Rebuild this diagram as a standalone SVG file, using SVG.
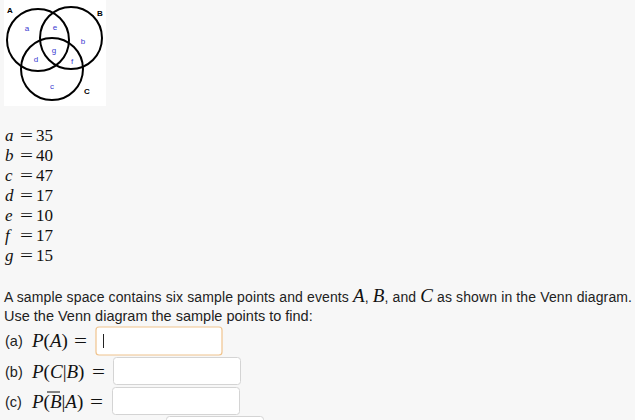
<svg xmlns="http://www.w3.org/2000/svg" width="635" height="420" viewBox="0 0 635 420">
<style>
.bg{fill:#f7f7f7}
.circ{fill:none;stroke:#000;stroke-width:2}
.lab{font-family:"Liberation Sans",Arial,sans-serif;font-size:8px;fill:#3a3ad0;text-anchor:middle}
.set{font-family:"Liberation Sans",Arial,sans-serif;font-size:8px;font-weight:bold;fill:#000;text-anchor:middle}
.eq{font-family:"Liberation Serif","Times New Roman",serif;font-size:17px;fill:#111}
.m{font-family:"Liberation Serif","Times New Roman",serif;font-size:19px;fill:#111}
.it{font-style:italic}
.txt{font-family:"Liberation Sans",Arial,sans-serif;font-size:14.5px;fill:#222}
.box{fill:#fff;stroke:#d4d4d4;stroke-width:1}
.boxa{fill:#fff;stroke:#f0c48e;stroke-width:1.2}
</style>
<rect class="bg" x="0" y="0" width="635" height="420"/>
<g id="venn">
<rect x="4" y="0" width="102" height="106" fill="#fff"/>
<g id="circleA"><circle class="circ" cx="38" cy="40" r="31"/><text class="set" x="10" y="13">A</text></g>
<g id="circleB"><circle class="circ" cx="71" cy="38" r="31"/><text class="set" x="100" y="16">B</text></g>
<g id="circleC"><circle class="circ" cx="52" cy="69" r="31"/><text class="set" x="87" y="94">C</text></g>
<text class="lab" x="27" y="31">a</text>
<text class="lab" x="55" y="30">e</text>
<text class="lab" x="83" y="44">b</text>
<text class="lab" x="54" y="53">g</text>
<text class="lab" x="36" y="62">d</text>
<text class="lab" x="72" y="64">f</text>
<text class="lab" x="52" y="89">c</text>
</g>
<g id="values" class="eq">
<text x="5" y="141" class="it">a</text><text x="20" y="141" textLength="13" lengthAdjust="spacingAndGlyphs">=</text><text x="36" y="141">35</text>
<text x="5" y="161" class="it">b</text><text x="20" y="161" textLength="13" lengthAdjust="spacingAndGlyphs">=</text><text x="36" y="161">40</text>
<text x="5" y="181" class="it">c</text><text x="20" y="181" textLength="13" lengthAdjust="spacingAndGlyphs">=</text><text x="36" y="181">47</text>
<text x="5" y="201" class="it">d</text><text x="20" y="201" textLength="13" lengthAdjust="spacingAndGlyphs">=</text><text x="36" y="201">17</text>
<text x="5" y="221" class="it">e</text><text x="20" y="221" textLength="13" lengthAdjust="spacingAndGlyphs">=</text><text x="36" y="221">10</text>
<text x="5" y="241" class="it">f</text><text x="20" y="241" textLength="13" lengthAdjust="spacingAndGlyphs">=</text><text x="36" y="241">17</text>
<text x="5" y="261" class="it">g</text><text x="20" y="261" textLength="13" lengthAdjust="spacingAndGlyphs">=</text><text x="36" y="261">15</text>
</g>
<g id="question">
<text class="txt" x="4" y="302" style="font-size:14px" textLength="628" lengthAdjust="spacing">A sample space contains six sample points and events <tspan class="m it">A</tspan>, <tspan class="m it">B</tspan>, and <tspan class="m it">C</tspan> as shown in the Venn diagram.</text>
<text class="txt" x="4" y="321">Use the Venn diagram the sample points to find:</text>
</g>
<g id="partA">
<text class="txt" x="5" y="346">(a)</text>
<text class="m" x="32" y="347"><tspan class="it">P</tspan>(<tspan class="it">A</tspan>)</text>
<text class="m" x="74" y="347" textLength="13" lengthAdjust="spacingAndGlyphs">=</text>
<rect class="boxa" x="96" y="327" width="126" height="28" rx="3"/>
<line x1="103.5" y1="334" x2="103.5" y2="348" stroke="#222" stroke-width="1"/>
</g>
<g id="partB">
<text class="txt" x="5" y="377">(b)</text>
<text class="m" x="32" y="378"><tspan class="it">P</tspan>(<tspan class="it">C</tspan>|<tspan class="it">B</tspan>)</text>
<text class="m" x="92" y="378" textLength="13" lengthAdjust="spacingAndGlyphs">=</text>
<rect class="box" x="113.5" y="357.5" width="127" height="27" rx="3"/>
</g>
<g id="partC">
<text class="txt" x="5" y="407">(c)</text>
<text class="m" x="32" y="408"><tspan class="it">P</tspan>(<tspan class="it">B</tspan>|<tspan class="it">A</tspan>)</text>
<line x1="47" y1="392" x2="60" y2="392" stroke="#111" stroke-width="1"/>
<text class="m" x="90" y="408" textLength="13" lengthAdjust="spacingAndGlyphs">=</text>
<rect class="box" x="112.5" y="387.5" width="127" height="27" rx="3"/>
</g>
<rect class="box" x="166.5" y="416.5" width="97" height="20" rx="3"/>
</svg>
